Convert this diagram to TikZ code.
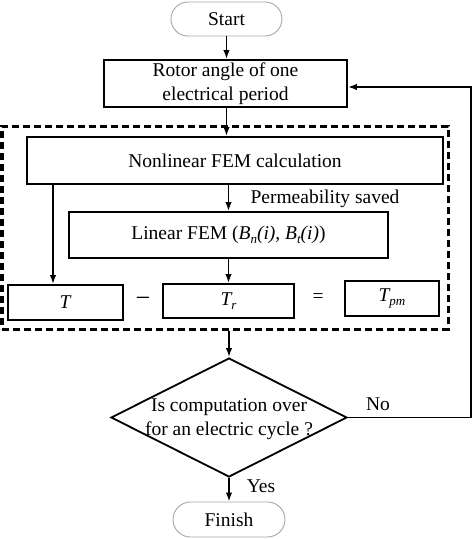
\documentclass[tikz,border=0pt]{standalone}
\usepackage{fontspec}
\setmainfont{Liberation Serif}
\usetikzlibrary{shapes.geometric,shapes.misc,arrows.meta}
\newcommand\lowsub[1]{\raisebox{-0.4ex}{\fontsize{13}{13}\selectfont #1}}
\tikzset{
  every node/.style={font=\fontsize{19.5}{24}\selectfont},
  boxnode/.style={draw, line width=1.8pt, rectangle, inner sep=0pt, align=center},
  termnode/.style={draw=gray!70, line width=0.9pt, rounded rectangle, inner sep=0pt},
  arr/.style={line width=1.9pt, -{Latex[length=9pt,width=6.5pt]}},
  groupbox/.style={draw, line width=3pt, dash pattern=on 7pt off 4pt, rectangle, inner sep=0pt}
}
\begin{document}
\begin{tikzpicture}[x=1pt,y=1pt]
\useasboundingbox (0,0) rectangle (474,-539);
\node[groupbox, minimum width=446pt, minimum height=203pt] (group) at (225,-227.5) {};
\node[termnode, minimum width=111pt, minimum height=34pt] (start) at (226.5,-19) {Start};
\node[boxnode, minimum width=243pt, minimum height=47pt] (rotor) at (225.5,-83.5) {Rotor angle of one\\electrical period};
\node[boxnode, minimum width=416pt, minimum height=47pt] (nonlin) at (235,-160.5) {Nonlinear FEM calculation};
\node[boxnode, minimum width=319pt, minimum height=46pt] (lin) at (228.5,-235) {Linear FEM (\textit{B\lowsub{n}(i)}, \textit{B\lowsub{t}(i)})};
\node[boxnode, minimum width=115pt, minimum height=35pt] (T) at (65.5,-302.5) {\textit{T}};
\node[boxnode, minimum width=131pt, minimum height=34pt] (Tr) at (228.5,-301) {\textit{T\lowsub{r}}};
\node[boxnode, minimum width=94pt, minimum height=35pt] (Tpm) at (392,-298.5) {\textit{T\lowsub{pm}}};
\node[font=\fontsize{26}{26}\selectfont] (minus) at (143,-302) {−};
\node (equal) at (318,-298) {=};
\node[diamond, draw, line width=1.8pt, minimum width=236pt, minimum height=119pt, inner sep=0pt] (dec) at (229,-417.5) {};
\node[align=center] (dectext) at (229,-419) {Is computation over\\for an electric cycle ?};
\node[termnode, minimum width=112pt, minimum height=35pt] (finish) at (229,-519.5) {Finish};
\node[anchor=west] (perm) at (247,-199) {Permeability saved};
\node (no) at (378,-404) {No};
\node (yes) at (261,-486) {Yes};
\coordinate (fb) at (471,-87);
\draw[arr] (start.south) -- (rotor.north -| start.south);
\draw[arr] (rotor.south -| start.south) -- (nonlin.north -| start.south);
\draw[arr] (lin.north |- nonlin.south) -- (lin.north);
\draw[arr] ([xshift=-12.5pt]T.north |- nonlin.south) -- ([xshift=-12.5pt]T.north);
\draw[arr] (lin.south) -- (Tr.north);
\draw[arr] (group.south -| dec.north) -- (dec.north);
\draw[arr] (dec.south) -- (finish.north);
\draw[arr] (dec.east) -| (fb) -- (fb -| rotor.east);
\end{tikzpicture}
\end{document}
